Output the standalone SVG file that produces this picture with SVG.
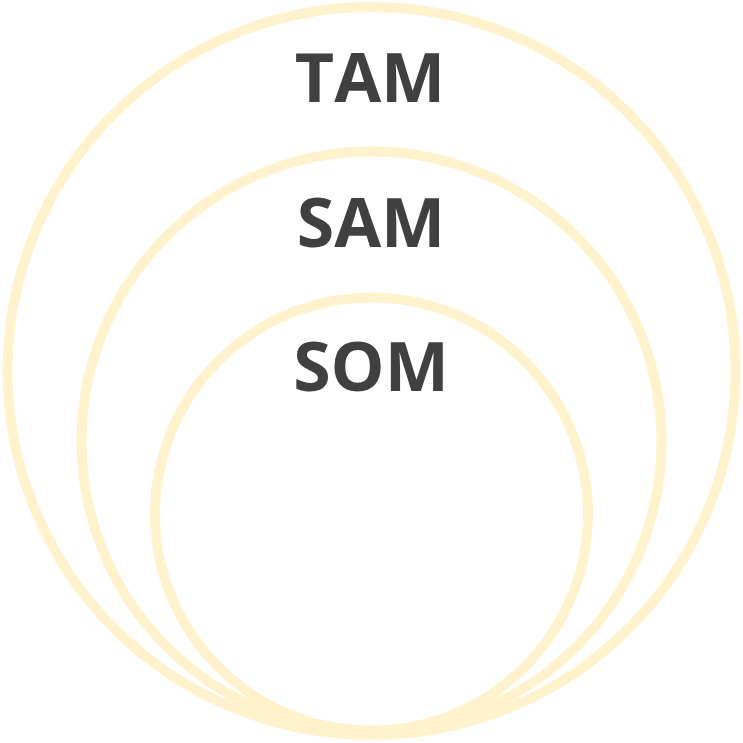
<svg xmlns="http://www.w3.org/2000/svg" width="743" height="743" viewBox="0 0 743 743">
<style>
.ring{fill:none;stroke:#FFF2CC;stroke-width:10}
.lbl{font-family:"Open Sans","Liberation Sans",sans-serif;font-weight:bold;font-size:68px;fill:#404040;text-anchor:middle}
</style>
<rect width="743" height="743" fill="#FFFFFF"/>
<g id="tam">
<circle class="ring" cx="371.5" cy="371" r="364"/>
<text class="lbl" x="370" y="102">TAM</text>
</g>
<g id="sam">
<circle class="ring" cx="371.5" cy="441.5" r="290"/>
<text class="lbl" x="371" y="247">SAM</text>
</g>
<g id="som">
<circle class="ring" cx="371.5" cy="514" r="216.5"/>
<text class="lbl" x="371" y="391">SOM</text>
</g>
<g id="connectors"/>
</svg>
